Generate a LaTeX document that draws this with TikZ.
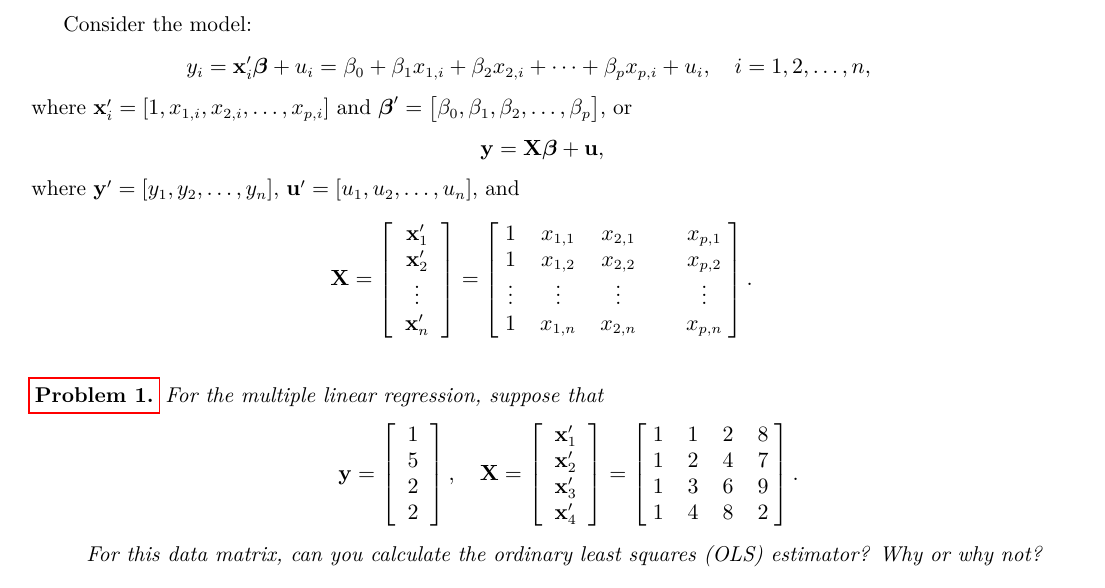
\documentclass[tikz,border=0pt]{standalone}
\usepackage{amsmath,amssymb}
\newcommand{\pbm}[1]{\left[\;\;\begin{matrix}#1\end{matrix}\;\;\right]}
\begin{document}
\begin{tikzpicture}[x=0.5pt,y=-0.5pt,txt/.style={inner sep=0pt,anchor=base west},mx/.style={inner sep=0pt,anchor=west},every node/.style={font=\fontsize{10.7}{13}\selectfont}]
\useasboundingbox (0,0) rectangle (1105,588);
\node[txt] (t1) at (63,32) {Consider the model:};
\node[txt] (e1) at (186,74) {$\displaystyle y_i=\mathbf{x}_i'\boldsymbol{\beta}+u_i=\beta_0+\beta_1x_{1,i}+\beta_2x_{2,i}+\cdots+\beta_px_{p,i}+u_i,\quad i=1,2,\ldots,n,$};
\node[txt] (t2) at (31,115) {where $\mathbf{x}_i'=[1,x_{1,i},x_{2,i},\ldots,x_{p,i}]$ and $\boldsymbol{\beta}'=\bigl[\beta_0,\beta_1,\beta_2,\ldots,\beta_p\bigr]$, or};
\node[txt] (e2) at (480,156) {$\mathbf{y}=\mathbf{X}\boldsymbol{\beta}+\mathbf{u},$};
\node[txt] (t3) at (31,196) {where $\mathbf{y}'=[y_1,y_2,\ldots,y_n]$, $\mathbf{u}'=[u_1,u_2,\ldots,u_n]$, and};
\node[mx] (e3) at (330,280) {\setlength\arraycolsep{6pt}$\displaystyle \mathbf{X}=\pbm{\mathbf{x}_1'\\ \mathbf{x}_2'\\ \vdots\\ \mathbf{x}_n'}=\left[\;\begin{matrix}1 & x_{1,1} & x_{2,1} & \hspace{1.2em} x_{p,1}\\ 1 & x_{1,2} & x_{2,2} & \hspace{1.2em} x_{p,2}\\ \vdots & \vdots & \vdots & \hspace{1.2em} \vdots\\ 1 & x_{1,n} & x_{2,n} & \hspace{1.2em} x_{p,n}\end{matrix}\;\right].$};
\node[txt,draw=red,thick,inner xsep=3pt,inner ysep=5pt] (p1) at (28,403) {\textbf{Problem 1.}};
\node[txt] (t4) at (165,403) {\itshape For the multiple linear regression, suppose that};
\node[mx] (e4) at (338,475) {\setlength\arraycolsep{6pt}$\displaystyle \mathbf{y}=\pbm{1\\5\\2\\2},\quad \mathbf{X}=\pbm{\mathbf{x}_1'\\ \mathbf{x}_2'\\ \mathbf{x}_3'\\ \mathbf{x}_4'}=\left[\;\begin{matrix}1&1&2&8\\1&2&4&7\\1&3&6&9\\1&4&8&2\end{matrix}\;\right].$};
\node[txt] (t5) at (86,562) {\itshape For this data matrix, can you calculate the ordinary least squares (OLS) estimator? Why or why not?};
\end{tikzpicture}
\end{document}
